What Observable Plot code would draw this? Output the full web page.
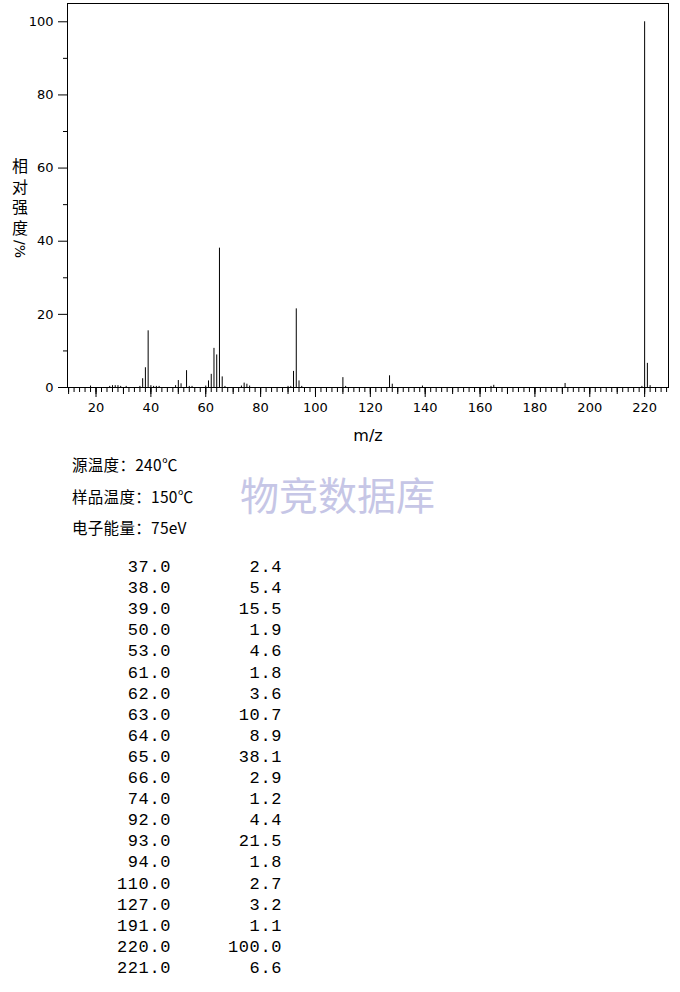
<!DOCTYPE html>
<html>
<head>
<meta charset="utf-8">
<script src="https://cdn.jsdelivr.net/npm/d3@7"></script>
<script src="https://cdn.jsdelivr.net/npm/@observablehq/plot@0.6"></script>
<style>
  html, body { margin: 0; padding: 0; background: #fff; }
  #wrap { position: relative; width: 680px; height: 992px; }
  #chart { position: absolute; left: 0; top: 0; }
  .ylab { position: absolute; left: 8px; top: 158px; writing-mode: vertical-rl; font-family: "Noto Sans CJK SC", sans-serif; font-size: 16px; letter-spacing: 4.5px; color: #000; }
  .ylab span { text-orientation: sideways; font-family: "DejaVu Sans", sans-serif; font-size: 14px; letter-spacing: 0; }
  .info { position: absolute; left: 72px; font-family: "Noto Sans CJK SC", sans-serif; font-size: 15.5px; color: #000; line-height: 1; letter-spacing: 0.3px; }
  .wm { position: absolute; left: 240px; top: 474px; font-family: "Noto Sans CJK SC", sans-serif; font-size: 39px; color: #c6c6e6; line-height: 1; }
  .row { position: absolute; font-family: "Liberation Mono", monospace; font-size: 17px; letter-spacing: 0.6px; color: #000; line-height: 1; }
</style>
</head>
<body>
<div id="wrap">
  <div id="chart"></div>
</div>
<script>
// Peak list (m/z, relative intensity %)
const mz =        [18, 25, 26, 27, 28, 29, 31, 36, 37, 38, 39, 40, 41, 42, 43, 49, 50, 51, 53, 54, 55, 60, 61, 62, 63, 64, 65, 66, 67, 73, 74, 75, 76, 90, 91, 92, 93, 94, 95, 110, 111, 127, 128, 139, 164, 165, 191, 219, 220, 221, 222];
const intensity = [0.4, 0.3, 0.5, 0.5, 0.5, 0.3, 0.3, 0.3, 2.4, 5.4, 15.5, 0.5, 0.3, 0.3, 0.3, 0.5, 1.9, 1.0, 4.6, 0.3, 0.3, 0.4, 1.8, 3.6, 10.7, 8.9, 38.1, 2.9, 0.3, 0.4, 1.2, 0.9, 0.4, 0.3, 0.3, 4.4, 21.5, 1.8, 0.3, 2.7, 0.3, 3.2, 0.9, 0.4, 0.3, 0.6, 1.1, 0.3, 100, 6.6, 0.5];

// Listed table
const tableMz =  ["37.0", "38.0", "39.0", "50.0", "53.0", "61.0", "62.0", "63.0", "64.0", "65.0", "66.0", "74.0", "92.0", "93.0", "94.0", "110.0", "127.0", "191.0", "220.0", "221.0"];
const tableInt = ["2.4", "5.4", "15.5", "1.9", "4.6", "1.8", "3.6", "10.7", "8.9", "38.1", "2.9", "1.2", "4.4", "21.5", "1.8", "2.7", "3.2", "1.1", "100.0", "6.6"];

// Axis ticks
const xLabelTicks = [20, 40, 60, 80, 100, 120, 140, 160, 180, 200, 220];
const yLabelTicks = [0, 20, 40, 60, 80, 100];
const yMinorTicks = [10, 30, 50, 70, 90];

// Info lines
const infoLines = ["源温度：240℃", "样品温度：150℃", "电子能量：75eV"];
const watermark = "物竞数据库";
const yTitleCJK = "相对强度";
const yTitleUnit = "/%";
const xTitle = "m/z";

const peaks = mz.map((m, i) => ({mz: m, v: intensity[i]}));
const xShort = d3.range(10, 229, 2);
const xMid = d3.range(10, 229, 10);

const font = "DejaVu Sans, sans-serif";

const chart = Plot.plot({
  width: 680,
  height: 450,
  marginLeft: 67,
  marginRight: 12,
  marginTop: 3,
  marginBottom: 63,
  style: {fontFamily: font, fontSize: "13px", color: "#000", background: "#fff"},
  x: {domain: [9.6, 228.7]},
  y: {domain: [0, 105]},
  marks: [
    Plot.frame({stroke: "#000", strokeWidth: 1}),
    Plot.ruleX(peaks, {x: "mz", y1: 0, y2: "v", stroke: "#000", strokeWidth: 1}),
    Plot.axisX({ticks: xShort, tickSize: 5, tickFormat: () => "", label: null, stroke: "#000"}),
    Plot.axisX({ticks: xMid, tickSize: 7, tickFormat: () => "", label: null, stroke: "#000"}),
    Plot.axisX({ticks: xLabelTicks, tickSize: 10, tickPadding: 5, label: null, stroke: "#000", fill: "#000", fontSize: 13}),
    Plot.axisY({ticks: yMinorTicks, tickSize: 4, tickFormat: () => "", label: null, stroke: "#000"}),
    Plot.axisY({ticks: yLabelTicks, tickSize: 9, tickPadding: 5, label: null, stroke: "#000", fill: "#000", fontSize: 13}),
    Plot.text([xTitle], {frameAnchor: "bottom", dy: 53, text: d => d, fontSize: 16, fill: "#000", fontFamily: font, letterSpacing: 1.5})
  ]
});
document.getElementById("chart").appendChild(chart);

const wrap = document.getElementById("wrap");
const yl = document.createElement("div");
yl.className = "ylab";
yl.appendChild(document.createTextNode(yTitleCJK));
const unit = document.createElement("span");
unit.textContent = yTitleUnit;
yl.appendChild(unit);
wrap.appendChild(yl);

infoLines.forEach((t, i) => {
  const d = document.createElement("div");
  d.className = "info";
  d.style.top = (457 + i * 31.5) + "px";
  d.textContent = t;
  wrap.appendChild(d);
});

const wm = document.createElement("div");
wm.className = "wm";
wm.textContent = watermark;
wrap.appendChild(wm);

tableMz.forEach((m, i) => {
  const top = 559 + i * 21.1;
  const a = document.createElement("div");
  a.className = "row";
  a.style.top = top + "px";
  a.style.right = (680 - 171) + "px";
  a.textContent = m;
  wrap.appendChild(a);
  const b = document.createElement("div");
  b.className = "row";
  b.style.top = top + "px";
  b.style.right = (680 - 282) + "px";
  b.textContent = tableInt[i];
  wrap.appendChild(b);
});
</script>
</body>
</html>
